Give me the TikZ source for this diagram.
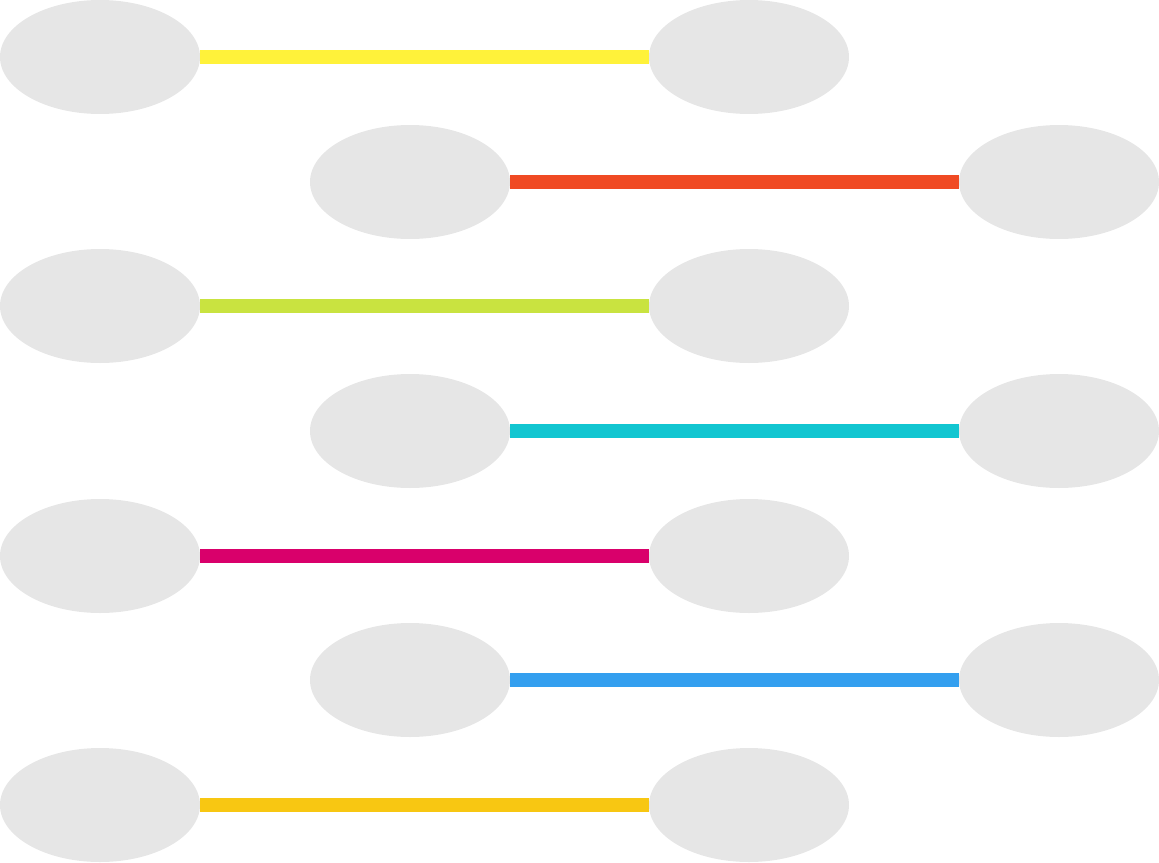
\documentclass[tikz,border=0pt]{standalone}
\usetikzlibrary{shapes.geometric}
\definecolor{ell}{HTML}{E6E6E6}
\definecolor{c1}{HTML}{FFF23A}
\definecolor{c2}{HTML}{F04A23}
\definecolor{c3}{HTML}{C9E340}
\definecolor{c4}{HTML}{12C6D1}
\definecolor{c5}{HTML}{D9006B}
\definecolor{c6}{HTML}{339FEF}
\definecolor{c7}{HTML}{F8C712}
\begin{document}
\begin{tikzpicture}[x=1pt,y=-1pt,
  blob/.style={ellipse,fill=ell,minimum width=200pt,minimum height=114pt,inner sep=0pt,outer sep=0pt},
  bar/.style={line width=14pt}]
\useasboundingbox (0,0) rectangle (1159,862);
\foreach \i/\y/\xa/\xb/\c in {1/57/100/749/c1,2/182/410/1059/c2,3/306/100/749/c3,4/431/410/1059/c4,5/556/100/749/c5,6/680/410/1059/c6,7/805/100/749/c7}{
  \node[blob] (a\i) at (\xa,\y) {};
  \node[blob] (b\i) at (\xb,\y) {};
  \draw[bar,\c] (a\i.east) -- (b\i.west);
}
\end{tikzpicture}
\end{document}
